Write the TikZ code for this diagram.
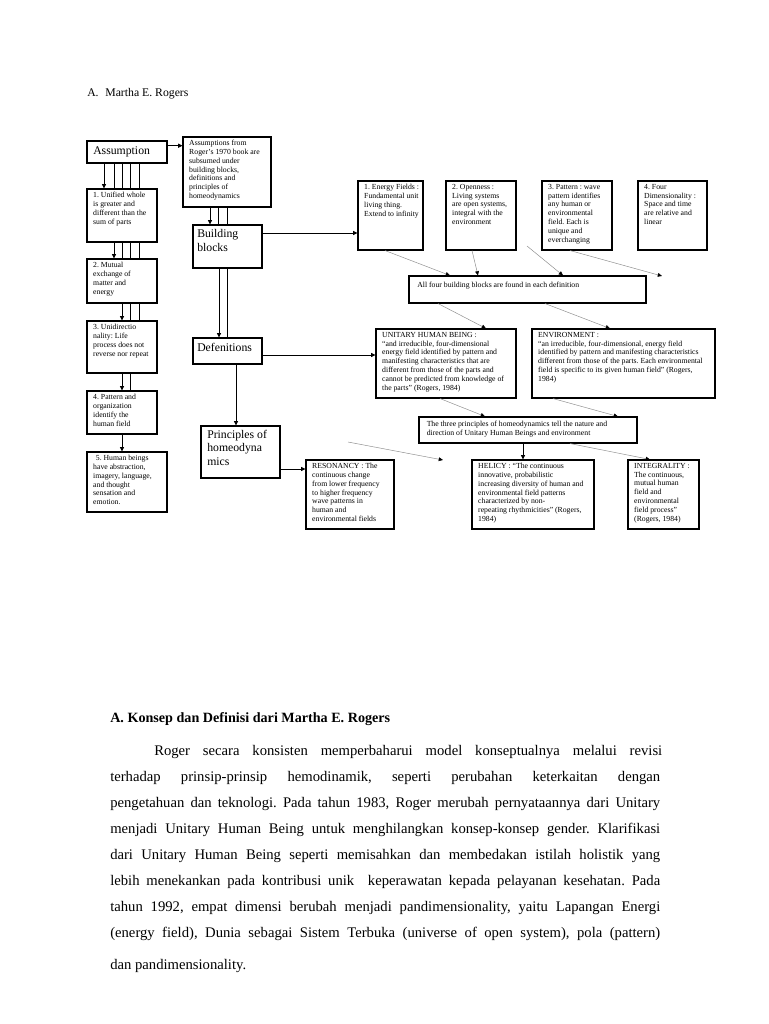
\documentclass[tikz,border=0pt]{standalone}
\usepackage{fontspec}
\setmainfont{Liberation Serif}
\usetikzlibrary{arrows.meta,fit,calc}
\frenchspacing
\newcommand\BoxAt[6]{%
  \node[bx, fit={(#2,#3) (#4,#5)}] (#1) {};
  \node[sm] (#1t) at ($(#1.north west)+(6.5,3.5)$) {#6};}
\begin{document}
\begin{tikzpicture}[x=0.75pt,y=-0.75pt,
  bx/.style={draw, line width=0.8pt, fill=white, inner sep=0pt},
  sm/.style={anchor=north west, inner sep=0pt, align=left, font=\fontsize{5.8}{6.6}\selectfont},
  lg/.style={anchor=north west, inner sep=0pt, align=left, font=\fontsize{8.8}{10}\selectfont},
  ln/.style={line width=0.6pt},
  ar/.style={line width=0.6pt, -{Triangle[length=3.2pt,width=3pt]}},
  gr/.style={line width=0.35pt, draw=black!45, -{Triangle[length=3.2pt,width=2.8pt,color=black]}},
  pl/.style={anchor=base west, inner sep=0pt, font=\fontsize{11}{13}\selectfont}]

\fill[white] (0,0) rectangle (768,1024);
\useasboundingbox (0,0) rectangle (768,1024);

\node[lg, font=\fontsize{8.8}{10}\selectfont] (title) at (87,88.5) {A.\hskip 5pt Martha E. Rogers};

% left column
\BoxAt{ass}{87}{141}{167}{163}{}
\node[lg] (asst) at (93,146) {Assumption};
\BoxAt{b1}{87}{189}{157}{242}{1. Unified whole\\is greater and\\different than the\\sum of parts}
\BoxAt{b2}{87}{259}{157}{303}{2. Mutual\\exchange of\\matter and\\energy}
\BoxAt{b3}{87}{321}{157}{373}{3. Unidirectio\\nality: Life\\process does not\\reverse nor repeat}
\BoxAt{b4}{87}{391}{157}{434}{4. Pattern and\\organization\\identify the\\human field}
\BoxAt{b5}{87}{452}{167}{512}{\hskip 2pt 5. Human beings\\have abstraction,\\imagery, language,\\and thought\\sensation and\\emotion.}

% middle column
\BoxAt{af}{183}{137}{271}{207}{Assumptions from\\Roger's 1970 book are\\subsumed under\\building blocks,\\definitions and\\principles of\\homeodynamics}
\BoxAt{bb}{193}{225}{262}{268}{}
\node[lg] (bbt) at (197,229.5) {Building\\blocks};
\BoxAt{def}{193}{338}{262}{364}{}
\node[lg] (deft) at (197,343) {Defenitions};
\BoxAt{pr}{201}{426}{280}{478}{}
\node[lg] (prt) at (207,430) {Principles of\\homeodyna\\mics};

% building blocks
\BoxAt{ef}{358}{181}{423}{250}{1. Energy Fields :\\Fundamental unit\\living thing.\\Extend to infinity}
\BoxAt{op}{446}{181}{516}{250}{2. Openness :\\Living systems\\are open systems,\\integral with the\\environment}
\BoxAt{pat}{542}{181}{612}{250}{3. Pattern : wave\\pattern identifies\\any human or\\environmental\\field. Each is\\unique and\\everchanging}
\BoxAt{fd}{638}{181}{707}{250}{4. Four\\Dimensionality :\\Space and time\\are relative and\\linear}
\BoxAt{all}{409}{276}{646}{303}{}
\node[sm] (allt) at (417,282) {All four building blocks are found in each definition};

% definitions
\BoxAt{uhb}{376}{329}{516}{398}{UNITARY HUMAN BEING :\\“and irreducible, four-dimensional\\energy field identified by pattern and\\manifesting characteristics that are\\different from those of the parts and\\cannot be predicted from knowledge of\\the parts” (Rogers, 1984)}
\BoxAt{env}{532}{329}{715}{398}{ENVIRONMENT :\\“an irreducible, four-dimensional, energy field\\identified by pattern and manifesting characteristics\\different from those of the parts. Each environmental\\field is specific to its given human field” (Rogers,\\1984)}

% principles
\BoxAt{tp}{419}{417}{637}{443}{}
\node[sm] (tpt) at (426.5,421) {The three principles of homeodynamics tell the nature and\\direction of Unitary Human Beings and environment};
\BoxAt{res}{306}{460}{394}{529}{RESONANCY : The\\continuous change\\from lower frequency\\to higher frequency\\wave patterns in\\human and\\environmental fields}
\BoxAt{hel}{472}{460}{594}{529}{HELICY : “The continuous\\innovative, probabilistic\\increasing diversity of human and\\environmental field patterns\\characterized by non-\\repeating rhythmicities” (Rogers,\\1984)}
\BoxAt{int}{628}{460}{699}{529}{INTEGRALITY :\\The continuous,\\mutual human\\field and\\environmental\\field process”\\(Rogers, 1984)}

% left column connectors
\draw[ar] (104,0 |- ass.south) -- (104,0 |- b1.north);
\foreach \x in {114,122,130.7,139.3} \draw[ln] (\x,0 |- ass.south) -- (\x,0 |- b1.north);
\draw[ar] (114,0 |- b1.south) -- (114,0 |- b2.north);
\foreach \x in {122,130.7,139.3} \draw[ln] (\x,0 |- b1.south) -- (\x,0 |- b2.north);
\draw[ar] (122,0 |- b2.south) -- (122,0 |- b3.north);
\foreach \x in {130.7,139.3} \draw[ln] (\x,0 |- b2.south) -- (\x,0 |- b3.north);
\draw[ar] (122,0 |- b3.south) -- (122,0 |- b4.north);
\draw[ln] (130.7,0 |- b3.south) -- (130.7,0 |- b4.north);
\draw[ar] (122,0 |- b4.south) -- (122,0 |- b5.north);

% middle connectors
\draw[ar] (ass.east |- 0,145.7) -- (af.west |- 0,145.7);
\draw[ar] (210,0 |- af.south) -- (210,0 |- bb.north);
\draw[ln] (218,0 |- af.south) -- (218,0 |- bb.north);
\draw[ln] (227,0 |- af.south) -- (227,0 |- bb.north);
\draw[ar] (219,0 |- bb.south) -- (219,0 |- def.north);
\draw[ln] (227,0 |- bb.south) -- (227,0 |- def.north);
\draw[ar] (236,0 |- def.south) -- (236,0 |- pr.north);
\draw[ar] (bb.east |- 0,233) -- (ef.west |- 0,233);
\draw[ar] (def.east |- 0,355) -- (uhb.west |- 0,355);
\draw[ar] (pr.east |- 0,469) -- (res.west |- 0,469);

% gray connectors
\coordinate (g1) at (527,246);
\coordinate (g2) at (662,276);
\coordinate (g3) at (348,442);
\coordinate (g4) at (443,460);
\draw[gr] (385,0 |- ef.south) -- (450,0 |- all.north);
\draw[gr] (472,0 |- op.south) -- (478,0 |- all.north);
\draw[gr] (g1) -- (563,0 |- all.north);
\draw[gr] (570,0 |- pat.south) -- (g2);
\draw[gr] (438,0 |- all.south) -- (486,0 |- uhb.north);
\draw[gr] (545,0 |- all.south) -- (610,0 |- env.north);
\draw[gr] (440,0 |- uhb.south) -- (485,0 |- tp.north);
\draw[gr] (553,0 |- env.south) -- (618,0 |- tp.north);
\draw[gr] (g3) -- (g4);
\draw[ar] (523,0 |- tp.south) -- (523,0 |- hel.north);
\draw[gr] (570,0 |- tp.south) -- (650,0 |- int.north);

% text below
\node[anchor=base west, inner sep=0pt, font=\fontsize{10.6}{13}\bfseries] (head) at (110,722) {A. Konsep dan Definisi dari Martha E. Rogers};
\node[pl] (p1) at (154,755) {\makebox[381pt][s]{Roger secara konsisten memperbaharui model konseptualnya melalui revisi}};
\node[pl] (p2) at (110,781) {\makebox[412.5pt][s]{terhadap prinsip-prinsip hemodinamik, seperti perubahan keterkaitan dengan}};
\node[pl] (p3) at (110,807) {\makebox[412.5pt][s]{pengetahuan dan teknologi. Pada tahun 1983, Roger merubah pernyataannya dari Unitary}};
\node[pl] (p4) at (110,833) {\makebox[412.5pt][s]{menjadi Unitary Human Being untuk menghilangkan konsep-konsep gender. Klarifikasi}};
\node[pl] (p5) at (110,859) {\makebox[412.5pt][s]{dari Unitary Human Being seperti memisahkan dan membedakan istilah holistik yang}};
\node[pl] (p6) at (110,885) {\makebox[412.5pt][s]{lebih menekankan pada kontribusi unik\ \ keperawatan kepada pelayanan kesehatan. Pada}};
\node[pl] (p7) at (110,911) {\makebox[412.5pt][s]{tahun 1992, empat dimensi berubah menjadi pandimensionality, yaitu Lapangan Energi}};
\node[pl] (p8) at (110,937) {\makebox[412.5pt][s]{(energy field), Dunia sebagai Sistem Terbuka (universe of open system), pola (pattern)}};
\node[pl] (p9) at (110,969) {dan pandimensionality.};
\end{tikzpicture}
\end{document}
